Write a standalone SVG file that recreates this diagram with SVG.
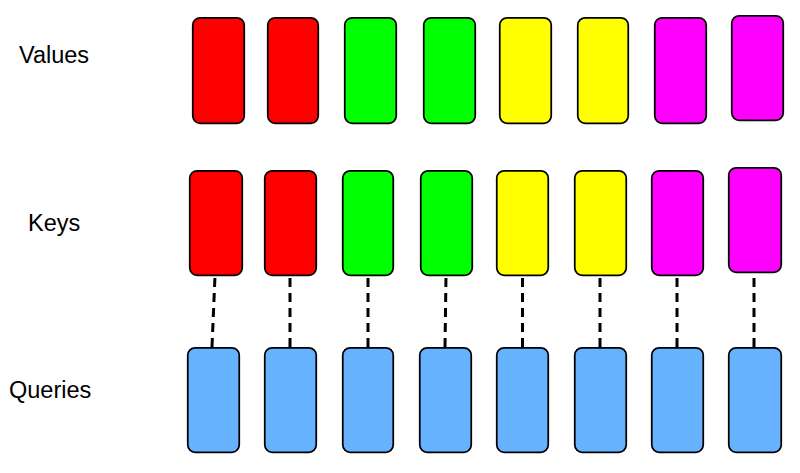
<svg xmlns="http://www.w3.org/2000/svg" width="800" height="473" viewBox="0 0 800 473">
<style>
.b{stroke:#000;stroke-width:1.75;rx:7.5;ry:7.5}
.r{fill:#FF0000}.g{fill:#00FF00}.y{fill:#FFFF00}.m{fill:#FF00FF}.q{fill:#66B2FF}
.lbl{font-family:"Liberation Sans",Arial,sans-serif;font-size:23.5px;fill:#000}
.c{stroke:#000;stroke-width:3;stroke-dasharray:9 6;fill:none}
</style>
<rect width="800" height="473" fill="#fff"/>
<g id="labels">
<text class="lbl" x="19" y="63">Values</text>
<text class="lbl" x="28" y="231">Keys</text>
<text class="lbl" x="9" y="398">Queries</text>
</g>
<g id="connectors">
<path class="c" d="M212 347L215 276"/>
<path class="c" d="M290 347L290 276"/>
<path class="c" d="M368 347L368 276"/>
<path class="c" d="M445 347L446 276"/>
<path class="c" d="M522.5 347L522.5 276"/>
<path class="c" d="M600 347L600 276"/>
<path class="c" d="M677 347L677 276"/>
<path class="c" d="M754 347L754 273"/>
</g>
<g id="values">
<rect id="v1" class="b r" x="192.75" y="17.75" width="51.5" height="105.5"/>
<rect id="v2" class="b r" x="267.75" y="17.75" width="50.5" height="105.5"/>
<rect id="v3" class="b g" x="344.75" y="17.75" width="51.5" height="105.5"/>
<rect id="v4" class="b g" x="423.75" y="17.75" width="51.5" height="105.5"/>
<rect id="v5" class="b y" x="499.75" y="17.75" width="51.5" height="105.5"/>
<rect id="v6" class="b y" x="577.75" y="17.75" width="50.5" height="105.5"/>
<rect id="v7" class="b m" x="654.75" y="17.75" width="51.5" height="105.5"/>
<rect id="v8" class="b m" x="731.75" y="15.75" width="51.5" height="104.5"/>
</g>
<g id="keys">
<rect id="k1" class="b r" x="189.75" y="170.75" width="52.5" height="104.5"/>
<rect id="k2" class="b r" x="264.75" y="170.75" width="51.5" height="104.5"/>
<rect id="k3" class="b g" x="342.75" y="170.75" width="50.5" height="104.5"/>
<rect id="k4" class="b g" x="420.75" y="170.75" width="51.5" height="104.5"/>
<rect id="k5" class="b y" x="496.75" y="170.75" width="51.5" height="104.5"/>
<rect id="k6" class="b y" x="574.75" y="170.75" width="51.5" height="104.5"/>
<rect id="k7" class="b m" x="651.75" y="170.75" width="51.5" height="104.5"/>
<rect id="k8" class="b m" x="728.75" y="167.75" width="52.5" height="104.5"/>
</g>
<g id="queries">
<rect id="q1" class="b q" x="187.75" y="347.75" width="51.5" height="104.5"/>
<rect id="q2" class="b q" x="264.75" y="347.75" width="51.5" height="104.5"/>
<rect id="q3" class="b q" x="342.75" y="347.75" width="50.5" height="104.5"/>
<rect id="q4" class="b q" x="419.75" y="347.75" width="51.5" height="104.5"/>
<rect id="q5" class="b q" x="496.75" y="347.75" width="51.5" height="104.5"/>
<rect id="q6" class="b q" x="574.75" y="347.75" width="51.5" height="104.5"/>
<rect id="q7" class="b q" x="651.75" y="347.75" width="51.5" height="104.5"/>
<rect id="q8" class="b q" x="728.75" y="347.75" width="52.5" height="104.5"/>
</g>
</svg>
